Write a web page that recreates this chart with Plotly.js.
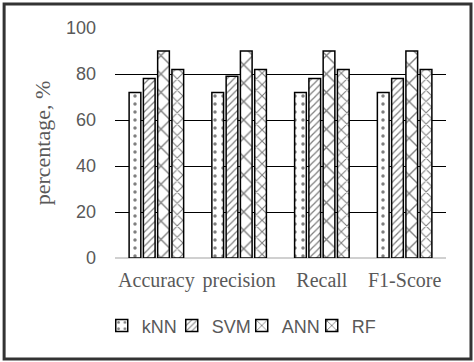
<!DOCTYPE html>
<html><head><meta charset="utf-8">
<script src="https://cdn.plot.ly/plotly-3.0.1.min.js"></script>
<style>html,body{margin:0;padding:0;background:#fff}#c{width:474px;height:362px}</style>
</head><body><div id="c"></div>
<script>
const categories = ["Accuracy", "precision", "Recall", "F1-Score"];
const seriesNames = ["kNN", "SVM", "ANN", "RF"];
const knn = [72, 72, 72, 72];
const svm = [78, 79, 78, 78];
const ann = [90, 90, 90, 90];
const rf = [82, 82, 82, 82];
const yTicks = [0, 20, 40, 60, 80, 100];
const gridTicks = [20, 40, 60, 80];

const values = [knn, svm, ann, rf];
const patterns = [
  {shape: ".", size: 8, solidity: 0.15},
  {shape: "/", size: 5, solidity: 0.25},
  {shape: "x", size: 13, solidity: 0.2},
  {shape: "x", size: 8, solidity: 0.25}
];
const traces = seriesNames.map((n, i) => ({
  type: "bar", name: n, x: categories, y: values[i],
  marker: {color: "#ffffff", line: {color: "#000000", width: 1.5},
    pattern: Object.assign({fgcolor: "#000000", bgcolor: "#ffffff", fillmode: "overlay"}, patterns[i])},
  hoverinfo: "skip"
}));
traces.push({type: "scatter", x: [categories[0]], y: [0], yaxis: "y2", mode: "markers",
  marker: {opacity: 0}, showlegend: false, hoverinfo: "skip"});

const layout = {
  width: 474, height: 362,
  margin: {l: 115, r: 28, t: 28, b: 104},
  paper_bgcolor: "#ffffff", plot_bgcolor: "rgba(0,0,0,0)",
  barmode: "group", bargap: 0.31, bargroupgap: 0.18,
  xaxis: {tickfont: {family: "Liberation Serif", size: 20, color: "#595959"},
    showline: false, ticks: "", showgrid: false, zeroline: false, ticklabelstandoff: 8},
  yaxis: {range: [0, 100], tickvals: yTicks, ticktext: yTicks.map(String),
    tickfont: {family: "Liberation Sans", size: 18, color: "#595959"},
    showgrid: false, zeroline: false, showline: false, ticks: "", ticklen: 0, ticklabelstandoff: 18,
    title: {text: "percentage, %", font: {family: "Liberation Serif", size: 22, color: "#595959"}, standoff: 9},
    layer: "below traces"},
  yaxis2: {overlaying: "y", range: [0, 100], tickvals: gridTicks, showticklabels: false,
    showgrid: true, gridcolor: "#000000", gridwidth: 1, zeroline: true, zerolinecolor: "#d0d0d0", zerolinewidth: 2,
    showline: false, ticks: "", layer: "below traces"},
  legend: {orientation: "h", xref: "container", yref: "container", x: 0.51, xanchor: "center",
    y: 0.1, yanchor: "middle", font: {family: "Liberation Sans", size: 18, color: "#595959"},
    itemwidth: 30, tracegroupgap: 0, entrywidth: 25, entrywidthmode: "pixels"},
  shapes: [{type: "rect", xref: "paper", yref: "paper", x0: -0.335, x1: 1.0755, y0: -0.439, y1: 1.104,
    line: {color: "#333333", width: 3}, fillcolor: "rgba(0,0,0,0)", layer: "below"}],
  showlegend: true
};
Plotly.newPlot("c", traces, layout, {staticPlot: true, displayModeBar: false});
</script></body></html>
